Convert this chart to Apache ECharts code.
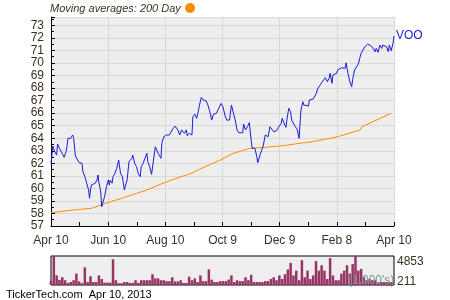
<!DOCTYPE html>
<html><head><meta charset="utf-8">
<script src="https://cdn.jsdelivr.net/npm/echarts@6/dist/echarts.min.js"></script>
<style>html,body{margin:0;padding:0;background:#fff}#c{width:450px;height:300px}</style>
</head><body><div id="c"></div><script>
const tickLabels = ['Apr 10','Jun 10','Aug 10','Oct 9','Dec 9','Feb 8','Apr 10'];
const seriesName = 'VOO';
const priceDays = [0,2,4,6,7,9,11,12,14,16,17,18,20,21,23,24,26,28,30,33,34,36,38,40,41,42,43,45,47,49,50,51,52,53,54,56,57,59,61,62,63,65,66,68,70,72,73,74,76,78,80,81,82,83,86,87,89,91,93,95,96,98,100,102,103,105,107,109,111,112,114,117,118,120,123,126,128,130,132,134,135,137,139,141,142,144,145,147,150,151,153,155,157,158,160,162,165,167,169,171,173,176,179,181,183,185,187,188,190,192,194,196,197,198,200,202,204,205,207,209,211,213,214,215,217,219,220,222,223,225,226,228,229,231,233,235,237,238,240,242,243,245,246,248,250,251,253,255,256,258,260,262,264,266,268,269,271,274,275,277,279,281,282,284,286,288,290,292,294,296,297,299,300,302,304,305,307,309,311,313,314,316,318,320,321,323,325,327,329,330,332,334,336,337,339,341,343,345,346,348,350,352,353,355,357,359,360,362,364,365];
const priceValues = [62.0,63.38,62.92,62.66,63.54,63.2,62.92,62.98,62.48,62.92,63.32,63.99,64.12,63.99,64.26,64.07,62.58,62.53,62.05,62.0,61.33,60.93,60.41,59.87,59.21,59.87,60.27,60.35,60.41,60.67,61.07,60.41,60.13,59.61,58.54,58.67,59.34,60.13,60.67,60.27,60.67,60.41,60.93,61.2,61.6,62.26,62.13,61.2,60.93,59.87,60.41,60.67,60.8,62.13,62.4,62.66,62.0,61.73,61.15,60.93,61.73,62.0,62.4,62.8,62.13,61.73,61.12,61.12,63.32,63.2,62.8,62.4,63.6,64.12,64.26,64.26,64.39,64.79,64.97,64.87,64.66,64.26,64.66,64.58,64.39,64.66,64.2,64.39,64.26,65.72,65.91,65.59,66.25,66.65,67.26,67.05,66.99,66.65,66.11,65.45,65.93,65.99,66.47,66.78,66.51,65.85,65.45,65.59,65.45,66.65,66.78,65.45,65.32,64.66,64.44,64.52,64.44,65.13,64.66,64.92,65.24,63.86,63.2,63.2,63.2,62.53,62.05,61.94,62.8,63.2,63.46,64.26,64.39,64.12,64.92,64.79,64.52,64.58,64.6,64.87,64.97,65.19,65.59,65.19,64.87,65.45,66.39,66.11,65.45,65.4,64.92,64.71,63.99,66.25,66.91,66.65,66.78,66.57,67.05,67.18,67.13,67.18,67.53,67.98,68.11,68.43,68.64,68.83,68.51,68.78,69.18,68.38,69.04,68.91,69.18,69.44,69.58,69.62,69.7,69.58,70.02,69.18,68.51,68.11,68.7,69.44,69.3,69.92,70.5,70.77,70.9,71.3,71.43,71.51,71.62,71.35,71.43,70.9,71.17,70.85,71.43,71.17,71.43,71.57,71.3,70.9,71.43,70.98,71.57,72.15];
const maDays = [0,24,43,56,77,102,123,151,158,180,194,212,226,247,265,278,304,329,331,362];
const maValues = [58.06,58.28,58.41,58.75,59.26,59.87,60.53,61.25,61.52,62.26,62.8,63.2,63.26,63.4,63.6,63.72,64.1,64.66,64.92,65.99];
const volumeStep = 3;
const volumes = [700,4853,1600,850,1300,800,350,500,800,1900,600,300,2950,500,1450,500,500,1600,1000,400,400,400,4300,800,300,300,500,500,350,350,800,350,800,800,800,800,1800,1100,1100,800,800,650,650,1300,600,600,800,350,350,1400,800,1100,500,1600,650,650,2600,900,500,500,650,650,650,900,1600,500,800,650,650,1300,800,1700,500,500,500,500,650,650,1000,1300,800,1600,1000,1800,2600,3700,1600,2400,800,4150,1300,2400,1000,1600,4000,2400,3300,2400,1000,4500,1600,800,800,1900,2400,3300,1900,3500,4853,2400,2700,1300,800,1000,800,800,450,500,500,500,500,500];
const volMaxLabel = '4853', volMinLabel = '211', volUnit = "(1,000's)";
const titleText = 'Moving averages: 200 Day';
const footerText = 'TickerTech.com  Apr 10, 2013';

const priceData = priceDays.map((d, i) => [d, priceValues[i]]);
const maData = maDays.map((d, i) => [d, maValues[i]]);
const volData = volumes.map((v, i) => [i * volumeStep, v]);

const FONT = '"Liberation Sans", Arial, sans-serif';
const TXT = '#3a3020';
const chart = echarts.init(document.getElementById('c'), null, {renderer: 'canvas'});
chart.setOption({
  animation: false,
  backgroundColor: '#fff',
  grid: [
    {left: 51, top: 17, width: 343, height: 209, show: true, backgroundColor: '#eeeeee', borderWidth: 0},
    {left: 51, top: 256, width: 343, height: 29, show: true, backgroundColor: '#eeeeee', borderWidth: 1, borderColor: '#000'}
  ],
  xAxis: [
    {type: 'value', gridIndex: 0, min: 0, max: 365, interval: 365 / 6,
     axisLine: {show: true, onZero: false, lineStyle: {color: '#000', width: 1}},
     axisTick: {show: true, inside: true, length: 4, lineStyle: {color: '#000'}},
     minorTick: {show: true, splitNumber: 2, length: 4, lineStyle: {color: '#000'}},
     splitLine: {show: true, lineStyle: {color: '#d9d9d9', width: 1}},
     axisLabel: {margin: 9, color: TXT, fontSize: 12, fontFamily: FONT,
       formatter: v => tickLabels[Math.round(v / (365 / 6))] || ''}},
    {type: 'value', gridIndex: 1, min: 0, max: 365, show: false}
  ],
  yAxis: [
    {type: 'value', gridIndex: 0, min: 57, max: 73.67, interval: 1,
     axisLine: {show: true, onZero: false, lineStyle: {color: '#000', width: 1}},
     axisTick: {show: true, inside: true, length: 4, lineStyle: {color: '#000'}},
     minorTick: {show: true, splitNumber: 2, length: 3, lineStyle: {color: '#000'}},
     splitLine: {show: true, lineStyle: {color: '#d9d9d9', width: 1}},
     axisLabel: {margin: 7, color: TXT, fontSize: 12, fontFamily: FONT,
       formatter: v => (Math.abs(v - Math.round(v)) < 1e-6 ? String(Math.round(v)) : '')}},
    {type: 'value', gridIndex: 1, min: 0, max: 4853, show: false}
  ],
  series: [
    {type: 'line', name: 'MA', xAxisIndex: 0, yAxisIndex: 0, data: maData, showSymbol: false,
     lineStyle: {color: '#ff8c00', width: 1}, z: 3},
    {type: 'line', name: seriesName, xAxisIndex: 0, yAxisIndex: 0, data: priceData, showSymbol: false,
     lineStyle: {color: '#1a1ad8', width: 1}, z: 4,
     endLabel: {show: true, formatter: seriesName, color: '#1a1ad8', fontSize: 12, fontFamily: FONT, distance: 2}},
    {type: 'bar', xAxisIndex: 1, yAxisIndex: 1, data: volData, barWidth: 2.5,
     itemStyle: {color: '#993366'}}
  ],
  graphic: [
    {type: 'text', left: 50, top: 3, style: {text: titleText, font: 'italic 11px ' + FONT, fill: TXT}},
    {type: 'circle', shape: {cx: 190, cy: 8, r: 5}, style: {fill: '#ff8c00'}},
    {type: 'text', left: 397, top: 256, style: {text: volMaxLabel, font: '12px ' + FONT, fill: TXT}},
    {type: 'text', left: 397, top: 276, style: {text: volMinLabel, font: '12px ' + FONT, fill: TXT}},
    {type: 'text', left: 348, top: 275, zlevel: 1, z: 100, style: {text: volUnit, font: '12px ' + FONT, fill: '#6f9a8c'}},
    {type: 'text', left: 6, top: 289, style: {text: footerText, font: '11px ' + FONT, fill: '#000'}}
  ]
});
</script></body></html>
